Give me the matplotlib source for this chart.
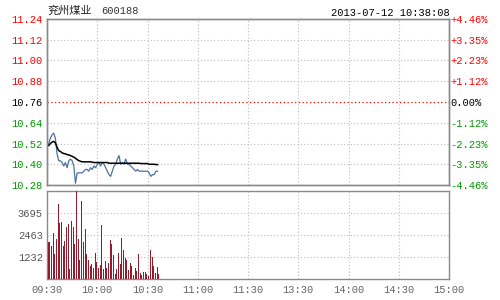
import matplotlib
matplotlib.use("Agg")
import matplotlib.pyplot as plt
import numpy as np

# 分时数据 (每分钟, 09:30 起)
price = [10.51, 10.52, 10.55, 10.57, 10.58, 10.55, 10.46, 10.42, 10.42, 10.41,
         10.39, 10.41, 10.38, 10.42, 10.43, 10.42, 10.39, 10.29, 10.35, 10.35,
         10.35, 10.35, 10.36, 10.37, 10.37, 10.36, 10.38, 10.37, 10.39, 10.38,
         10.40, 10.41, 10.39, 10.41, 10.40, 10.38, 10.36, 10.34, 10.33, 10.36,
         10.39, 10.40, 10.43, 10.45, 10.40, 10.41, 10.40, 10.43, 10.40, 10.40,
         10.39, 10.38, 10.37, 10.36, 10.37, 10.36, 10.36, 10.36, 10.36, 10.36,
         10.36, 10.35, 10.33, 10.34, 10.34, 10.36, 10.36]
avg_price = [10.512, 10.508, 10.520, 10.528, 10.532, 10.524, 10.499, 10.479, 10.474, 10.466,
             10.462, 10.460, 10.456, 10.454, 10.450, 10.446, 10.441, 10.435, 10.427, 10.421,
             10.417, 10.414, 10.414, 10.414, 10.414, 10.414, 10.414, 10.412, 10.410, 10.410,
             10.410, 10.410, 10.410, 10.410, 10.410, 10.410, 10.410, 10.406, 10.406, 10.406,
             10.406, 10.406, 10.406, 10.406, 10.406, 10.406, 10.406, 10.406, 10.406, 10.406,
             10.406, 10.406, 10.406, 10.406, 10.406, 10.406, 10.404, 10.404, 10.404, 10.404,
             10.404, 10.400, 10.400, 10.400, 10.400, 10.398, 10.398]
volume = [2083, 2083, 1860, 2567, 1414, 2250, 4200, 3143, 3199, 1860,
          2139, 2920, 3088, 595, 3255, 2920, 1972, 4930, 2250, 1079,
          4371, 2083, 2809, 1414, 1079, 744, 856, 632, 1469, 967,
          632, 800, 3032, 577, 1023, 632, 911, 2195, 1972, 1358,
          298, 577, 1469, 856, 2306, 1637, 1190, 1079, 521, 911,
          744, 242, 632, 465, 1414, 353, 242, 409, 409, 298,
          186, 1637, 1246, 744, 353, 688, 298]

price_ticks = [11.24, 11.12, 11.00, 10.88, 10.76, 10.64, 10.52, 10.40, 10.28]
pct_labels = ['+4.46%', '+3.35%', '+2.23%', '+1.12%', '0.00%',
              '-1.12%', '-2.23%', '-3.35%', '-4.46%']
vol_ticks = [1232, 2463, 3695]
time_ticks = [0, 30, 60, 90, 120, 150, 180, 210, 240]
time_labels = ['09:30', '10:00', '10:30', '11:00', '11:30',
               '13:30', '14:00', '14:30', '15:00']
prev_close = 10.76

RED = '#ff0000'
GREEN = '#009900'
GRAY = '#8a8a8a'
GRID = '#bdbdbd'
mono = 'Liberation Mono'

fig = plt.figure(figsize=(5, 3), dpi=100)
fig.patch.set_facecolor('white')

ax = fig.add_axes([0.094, 0.3833, 0.804, 0.5534])
ax2 = fig.add_axes([0.094, 0.069, 0.804, 0.2943])

x = np.arange(len(price))

# 价格面板
for t in price_ticks[1:-1]:
    if t == prev_close:
        ax.axhline(t, color=RED, lw=0.9, ls=(0, (1, 2)), zorder=1)
    else:
        ax.axhline(t, color=GRID, lw=0.8, ls=(0, (1, 2)), zorder=1)
for t in time_ticks[1:-1]:
    ax.axvline(t, color=GRID, lw=0.8, ls=(0, (1, 2)), zorder=1)
ax.plot(x, price, color='#4f719c', lw=0.9, zorder=3)
ax.plot(x, avg_price, color='black', lw=1.1, zorder=4)
ax.set_xlim(0, 240)
ax.set_ylim(10.28, 11.24)
ax.set_xticks([])
ax.set_yticks(price_ticks)
ax.set_yticklabels(['%.2f' % t for t in price_ticks], fontfamily=mono, fontsize=7.5)
for lab, t in zip(ax.get_yticklabels(), price_ticks):
    lab.set_color(RED if t > prev_close else (GREEN if t < prev_close else 'black'))
ax.tick_params(axis='y', length=0, pad=3)

axr = ax.twinx()
axr.set_ylim(10.28, 11.24)
axr.set_yticks(price_ticks)
axr.set_yticklabels(pct_labels, fontfamily=mono, fontsize=7.5)
for lab, t in zip(axr.get_yticklabels(), price_ticks):
    lab.set_color(RED if t > prev_close else (GREEN if t < prev_close else 'black'))
axr.tick_params(axis='y', length=0, pad=1)

for a in (ax, axr, ax2):
    for s in a.spines.values():
        s.set_color(GRAY)
        s.set_linewidth(1.0)

# 成交量面板
for t in vol_ticks:
    ax2.axhline(t, color=GRID, lw=0.8, ls=(0, (1, 2)), zorder=1)
for t in time_ticks[1:-1]:
    ax2.axvline(t, color=GRID, lw=0.8, ls=(0, (1, 2)), zorder=1)
ax2.vlines(x + 0.4, 0, volume, colors='#951a2c', linewidth=0.6,
           antialiased=False, zorder=3)
ax2.set_xlim(0, 240)
ax2.set_ylim(0, 4927)
ax2.set_yticks(vol_ticks)
ax2.set_yticklabels([str(v) for v in vol_ticks], fontfamily=mono, fontsize=7.5, color='#555555')
ax2.set_xticks(time_ticks)
ax2.set_xticklabels(time_labels, fontfamily=mono, fontsize=7.5, color='#666666')
ax2.tick_params(length=0, pad=3)
ax2.tick_params(axis='x', pad=4)

# 标题
fig.text(0.094, 0.965, '兖州煤业', fontfamily='Noto Sans CJK SC', fontsize=8,
         color='#222222', va='center', ha='left')
fig.text(0.203, 0.965, '600188', fontfamily=mono, fontsize=7.5,
         color='#333333', va='center', ha='left')
fig.text(0.9, 0.958, '2013-07-12 10:38:08', fontfamily=mono, fontsize=7.5,
         color='black', va='center', ha='right')

fig.savefig('out.png', dpi=100)
